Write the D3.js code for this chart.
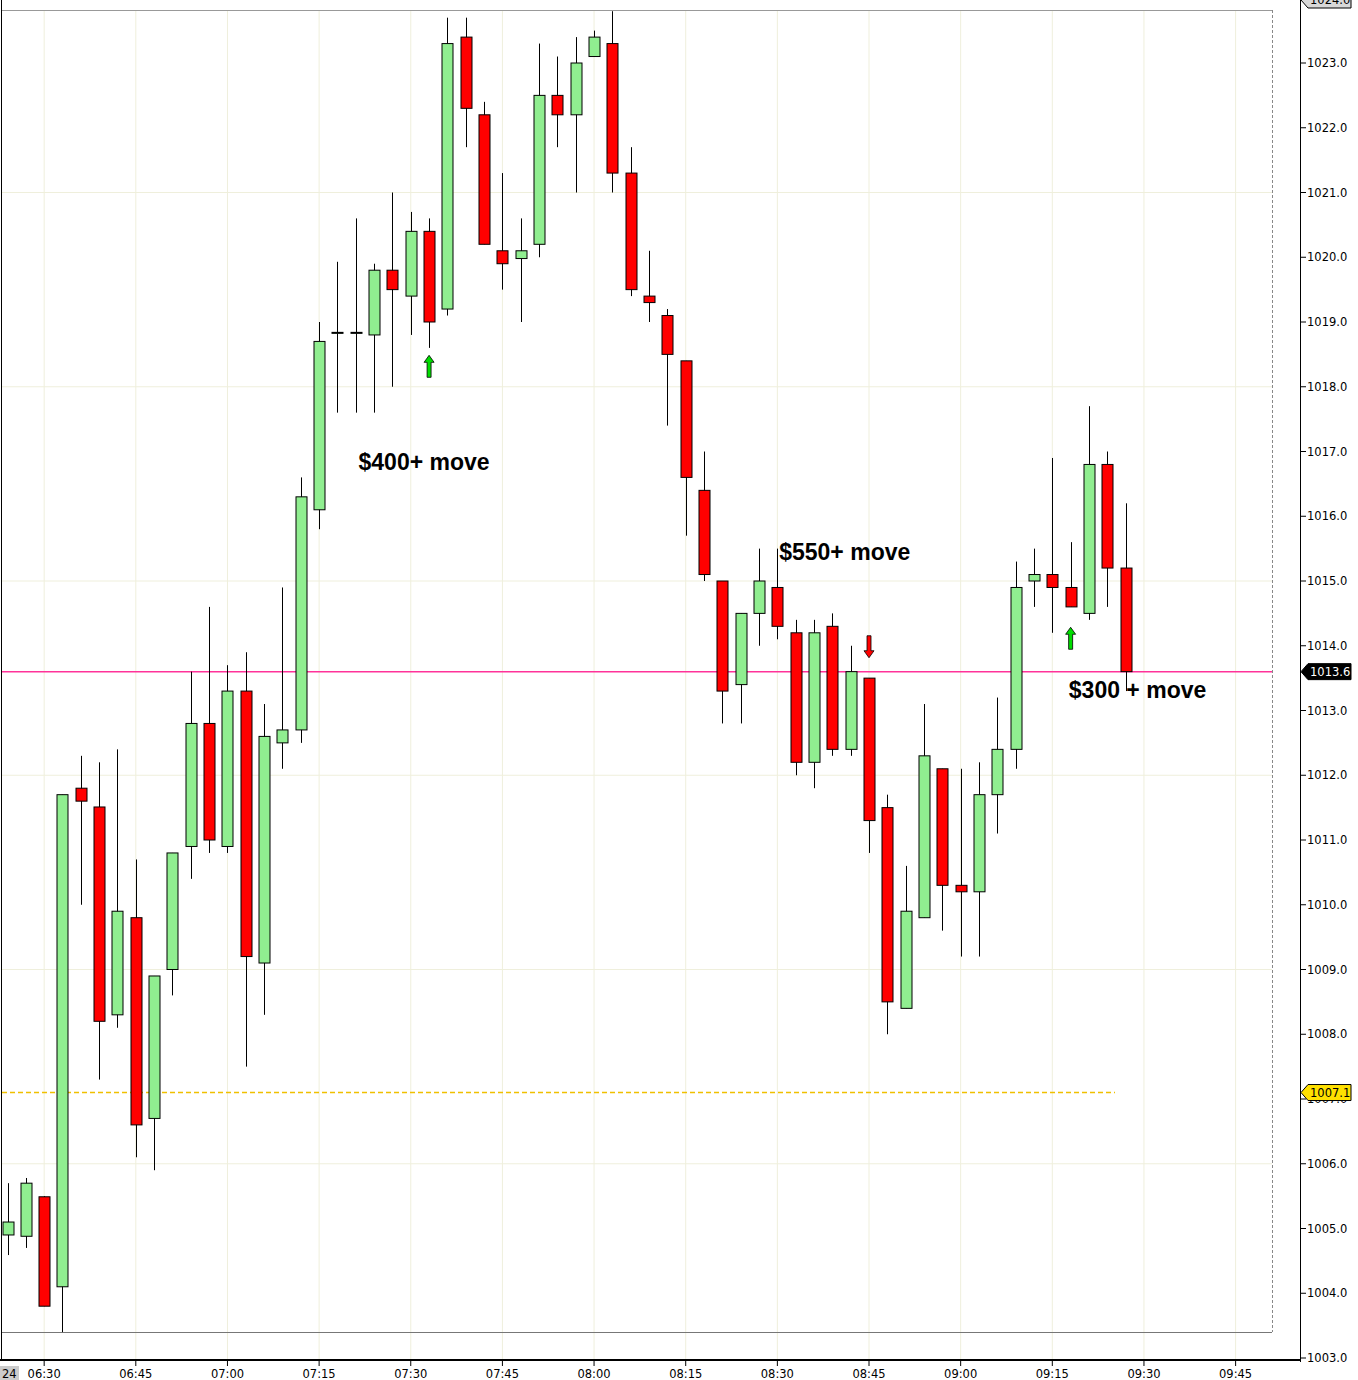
<!DOCTYPE html>
<html><head><meta charset="utf-8">
<script src="https://cdn.jsdelivr.net/npm/d3@7"></script>
<style>body{margin:0;background:#fff}svg{display:block}</style></head>
<body><svg id="c" width="1358" height="1380"></svg>
<script>
const opens  = [1004.9,1004.88,1005.49,1004.1,1011.8,1011.51,1008.3,1009.8,1006.7,1009.0,1010.9,1012.8,1010.9,1013.3,1009.1,1012.5,1012.7,1016.1,1018.83,1018.83,1018.8,1019.8,1019.4,1020.4,1019.2,1023.4,1022.2,1020.1,1019.98,1020.2,1022.5,1022.2,1023.1,1023.3,1021.3,1019.4,1019.1,1018.4,1016.4,1015.0,1013.4,1014.5,1014.9,1014.2,1012.2,1014.3,1012.4,1013.5,1011.5,1008.4,1009.8,1012.1,1010.3,1010.2,1011.7,1012.4,1015.0,1015.1,1014.9,1014.5,1016.8,1015.2];
const closes = [1005.1,1005.7,1003.8,1011.7,1011.6,1008.2,1009.9,1006.6,1008.9,1010.8,1012.8,1011.0,1013.3,1009.2,1012.6,1012.7,1016.3,1018.7,1018.84,1018.84,1019.8,1019.5,1020.4,1019.0,1023.3,1022.3,1020.2,1019.9,1020.1,1022.5,1022.2,1023.0,1023.4,1021.3,1019.5,1019.3,1018.5,1016.6,1015.1,1013.3,1014.5,1015.0,1014.3,1012.2,1014.2,1012.4,1013.6,1011.3,1008.5,1009.9,1012.3,1010.3,1010.2,1011.7,1012.4,1014.9,1015.1,1014.9,1014.6,1016.8,1015.2,1013.6];
const highs  = [1005.7,1005.78,1005.5,1011.7,1012.3,1012.2,1012.4,1010.7,1008.9,1010.8,1013.6,1014.6,1013.7,1013.9,1013.1,1014.9,1016.6,1019.0,1019.93,1020.6,1019.9,1021.0,1020.7,1020.6,1023.7,1023.7,1022.4,1021.3,1020.6,1023.3,1023.1,1023.4,1023.5,1023.8,1021.7,1020.1,1019.2,1018.4,1017.0,1015.0,1014.5,1015.5,1015.5,1014.4,1014.4,1014.5,1014.0,1013.5,1011.7,1010.6,1013.1,1012.1,1012.1,1012.2,1013.2,1015.3,1015.5,1016.9,1015.6,1017.7,1017.0,1016.2];
const lows   = [1004.59,1004.7,1003.8,1003.4,1010.0,1007.3,1008.1,1006.1,1005.9,1008.6,1010.4,1010.8,1010.8,1007.5,1008.3,1012.1,1012.5,1015.8,1017.6,1017.6,1017.6,1018.0,1018.8,1018.6,1019.1,1021.7,1020.2,1019.5,1019.0,1020.0,1021.7,1021.0,1023.1,1021.0,1019.4,1019.0,1017.4,1015.7,1015.0,1012.8,1012.8,1014.0,1014.1,1012.0,1011.8,1012.3,1012.3,1010.8,1008.0,1008.4,1009.8,1009.6,1009.2,1009.2,1011.1,1012.1,1014.6,1014.2,1014.6,1014.4,1014.6,1013.3];
const timeLabels = ["06:30","06:45","07:00","07:15","07:30","07:45","08:00","08:15","08:30","08:45","09:00","09:15","09:30","09:45"];
const priceTicks = [1003,1004,1005,1006,1007,1008,1009,1010,1011,1012,1013,1014,1015,1016,1017,1018,1019,1020,1021,1022,1023];
const gridPrices = [1006,1009,1012,1015,1018,1021];
const arrows = [{i:23,dir:"up",p:1018.3},{i:47,dir:"down",p:1014.0},{i:58,dir:"up",p:1014.1}];
const notes = [{i:19.15,p:1016.72,t:"$400+ move"},{i:42.1,p:1015.32,t:"$550+ move"},{i:57.9,p:1013.2,t:"$300 + move"}];
const lastPrice = 1013.6, yellowPrice = 1007.1;

const svg = d3.select("#c");
const x = d3.scaleLinear().domain([0,61]).range([7.5,7.5+18.33*61]);
const y = d3.scaleLinear().domain([1003,1023]).range([1358,63]);
const font = "Tahoma, 'DejaVu Sans', sans-serif";

timeLabels.forEach((t,k)=>{const xx=x(2+5*k);
  svg.append("line").attr("x1",xx).attr("x2",xx).attr("y1",10).attr("y2",1360).attr("stroke","#efefdc").attr("stroke-width",1);});
gridPrices.forEach(p=>svg.append("line").attr("x1",2).attr("x2",1272).attr("y1",y(p)).attr("y2",y(p)).attr("stroke","#efefdc"));
svg.append("line").attr("x1",2).attr("x2",1272).attr("y1",10.5).attr("y2",10.5).attr("stroke","#999");
svg.append("line").attr("x1",2).attr("x2",1272).attr("y1",1332.5).attr("y2",1332.5).attr("stroke","#777");
svg.append("line").attr("x1",1272.5).attr("x2",1272.5).attr("y1",10).attr("y2",1332).attr("stroke","#888").attr("stroke-dasharray","3,2");
svg.append("line").attr("x1",1.5).attr("x2",1.5).attr("y1",0).attr("y2",1360).attr("stroke","#000");
svg.append("line").attr("x1",0).attr("x2",1300).attr("y1",1360).attr("y2",1360).attr("stroke","#000").attr("stroke-width",2);
svg.append("line").attr("x1",1300.5).attr("x2",1300.5).attr("y1",0).attr("y2",1362).attr("stroke","#000");

svg.append("line").attr("x1",2).attr("x2",1272).attr("y1",y(lastPrice)).attr("y2",y(lastPrice)).attr("stroke","#ff3399").attr("stroke-width",1.5);
svg.append("line").attr("x1",2).attr("x2",1115).attr("y1",y(yellowPrice)).attr("y2",y(yellowPrice)).attr("stroke","#f0c000").attr("stroke-width",1.5).attr("stroke-dasharray","5,3");

const g = svg.append("g");
opens.forEach((o,i)=>{
  const c=closes[i], xx=Math.round(x(i))+0.5;
  g.append("line").attr("x1",xx).attr("x2",xx).attr("y1",y(highs[i])).attr("y2",y(lows[i])).attr("stroke","#000");
  const top=y(Math.max(o,c)), bot=y(Math.min(o,c));
  g.append("rect").attr("x",xx-5.5).attr("y",top).attr("width",11).attr("height",Math.max(1,bot-top))
   .attr("fill",c>=o?"#90ee90":"#ff0000").attr("stroke","#000").attr("stroke-width",1);
});

arrows.forEach(a=>{
  const xx=x(a.i), yy=y(a.p), col=a.dir==="up"?"#00dd00":"#ff0000", s=a.dir==="up"?1:-1;
  const pts=[[0,-12*s],[5,-5*s],[2,-5*s],[2,10*s],[-2,10*s],[-2,-5*s],[-5,-5*s]].map(p=>[xx+p[0],yy+p[1]]);
  svg.append("polygon").attr("points",pts.join(" ")).attr("fill",col).attr("stroke","#000").attr("stroke-width",0.8);
});

notes.forEach(n=>svg.append("text").attr("x",x(n.i)).attr("y",y(n.p)).attr("font-family","Arial, 'Liberation Sans', sans-serif")
  .attr("font-weight","bold").attr("font-size",23).attr("fill","#000").text(n.t));

priceTicks.forEach(p=>{
  svg.append("line").attr("x1",1301).attr("x2",1306).attr("y1",y(p)).attr("y2",y(p)).attr("stroke","#000");
  svg.append("text").attr("x",1307).attr("y",y(p)+4).attr("font-family",font).attr("font-size",11.5).text(p.toFixed(1));
});
function tag(p,fill,tc,yy){
  const t=yy===undefined?y(p):yy;
  svg.append("path").attr("d",`M1301,${t} L1308,${t-8} L1351,${t-8} L1351,${t+8} L1308,${t+8} Z`).attr("fill",fill).attr("stroke","#000");
  svg.append("text").attr("x",1310).attr("y",t+4).attr("font-family",font).attr("font-size",11.5).attr("fill",tc).text(p.toFixed(1));
}
tag(1024,"#d8d8d8","#000",0);
tag(lastPrice,"#000","#fff");
tag(yellowPrice,"#ffe000","#000");

timeLabels.forEach((t,k)=>{const xx=x(2+5*k);
  svg.append("line").attr("x1",xx).attr("x2",xx).attr("y1",1360).attr("y2",1366).attr("stroke","#000");
  svg.append("text").attr("x",xx).attr("y",1378).attr("text-anchor","middle").attr("font-family",font).attr("font-size",11.5).text(t);});
svg.append("rect").attr("x",0).attr("y",1366).attr("width",19).attr("height",14).attr("fill","#ccc");
svg.append("text").attr("x",2).attr("y",1378).attr("font-family",font).attr("font-size",11.5).text("24");
</script></body></html>
